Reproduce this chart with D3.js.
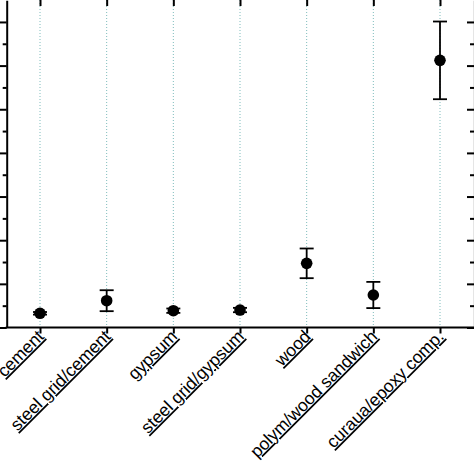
<!DOCTYPE html>
<html>
<head>
<meta charset="utf-8">
<script src="https://cdn.jsdelivr.net/npm/d3@7"></script>
<style>
  body { margin: 0; background: #fff; }
  svg { display: block; }
  .lbl { font-family: "Liberation Sans", Arial, sans-serif; font-size: 17.5px; text-decoration: underline; fill: #000; }
</style>
</head>
<body>
<svg id="chart" width="474" height="462"></svg>
<script>
// data (y in units of major ticks)
const categories = ['cement', 'steel grid/cement', 'gypsum', 'steel grid/gypsum', 'wood', 'polym/wood sandwich', 'curaua/epoxy comp.'];
const means = [0.325, 0.614, 0.385, 0.40, 1.47, 0.745, 6.12];
const errors = [0.03, 0.24, 0.05, 0.05, 0.34, 0.30, 0.89];
const majorTicks = [0, 1, 2, 3, 4, 5, 6, 7];
const minorTicks = [0.5, 1.5, 2.5, 3.5, 4.5, 5.5, 6.5];

const svg = d3.select('#chart');
const width = +svg.attr('width');

const left = 6.7, right = 474, bottom = 327.5;

const x = d3.scalePoint()
    .domain(categories)
    .range([40, 440]);

const y = d3.scaleLinear()
    .domain([0, 7.5])
    .range([bottom, bottom - 7.5 * 43.65]);

const data = categories.map((c, i) => ({ cat: c, mean: means[i], err: errors[i] }));

// dotted guide lines
svg.append('g').selectAll('line')
    .data(categories)
    .enter().append('line')
    .attr('x1', d => x(d)).attr('x2', d => x(d))
    .attr('y1', 0).attr('y2', bottom)
    .attr('stroke', '#7fbcbc')
    .attr('stroke-width', 1)
    .attr('stroke-dasharray', '1,2');

// ticks of the panel above (hanging from the top edge)
const topAx = svg.append('g')
    .attr('transform', 'translate(0,-1)')
    .call(d3.axisBottom(x).tickSize(7).tickSizeOuter(0).tickFormat(''));
topAx.select('.domain').remove();
topAx.selectAll('line').attr('stroke', '#000').attr('stroke-width', 2);

// left axis, outward ticks
const leftAx = svg.append('g')
    .attr('transform', 'translate(' + left + ',0)')
    .call(d3.axisLeft(y).tickValues(majorTicks).tickSize(7).tickSizeOuter(0).tickFormat(''));
leftAx.select('.domain').attr('stroke-width', 2);
leftAx.selectAll('line').attr('stroke-width', 2);
svg.append('g')
    .attr('transform', 'translate(' + left + ',0)')
    .call(d3.axisLeft(y).tickValues(minorTicks).tickSize(4).tickSizeOuter(0).tickFormat(''))
    .call(g => g.select('.domain').remove())
    .selectAll('line').attr('stroke-width', 2);

// right edge (next panel), outward ticks
const rightAx = svg.append('g')
    .attr('transform', 'translate(' + right + ',0)')
    .call(d3.axisLeft(y).tickValues(majorTicks).tickSize(7).tickSizeOuter(0).tickFormat(''));
rightAx.select('.domain').attr('stroke', '#ccc').attr('stroke-width', 2);
rightAx.selectAll('line').attr('stroke-width', 2);
svg.append('g')
    .attr('transform', 'translate(' + right + ',0)')
    .call(d3.axisLeft(y).tickValues(minorTicks).tickSize(4).tickSizeOuter(0).tickFormat(''))
    .call(g => g.select('.domain').remove())
    .selectAll('line').attr('stroke-width', 2);

// bottom axis
const xAx = svg.append('g')
    .attr('transform', 'translate(0,' + bottom + ')')
    .call(d3.axisBottom(x).tickSize(6).tickSizeOuter(0).tickFormat(''));
xAx.select('.domain').attr('d', 'M' + (left - 1) + ',0H' + width).attr('stroke-width', 2);
xAx.selectAll('line').attr('stroke-width', 2);

// rotated labels
svg.append('g').selectAll('text')
    .data(categories)
    .enter().append('text')
    .attr('class', 'lbl')
    .attr('text-anchor', 'end')
    .attr('transform', d => 'translate(' + (x(d) + 5) + ',' + (bottom + 10) + ') rotate(-45)')
    .text(d => d);

// error bars
const eb = svg.append('g').selectAll('g')
    .data(data)
    .enter().append('g');
eb.append('line')
    .attr('x1', d => x(d.cat)).attr('x2', d => x(d.cat))
    .attr('y1', d => y(d.mean - d.err)).attr('y2', d => y(d.mean + d.err))
    .attr('stroke', '#000').attr('stroke-width', 1.8);
[-1, 1].forEach(s => {
  eb.append('line')
      .attr('x1', d => x(d.cat) - 7).attr('x2', d => x(d.cat) + 7)
      .attr('y1', d => y(d.mean + s * d.err)).attr('y2', d => y(d.mean + s * d.err))
      .attr('stroke', '#000').attr('stroke-width', 1.8);
});
eb.append('circle')
    .attr('cx', d => x(d.cat))
    .attr('cy', d => y(d.mean))
    .attr('r', 5.8)
    .attr('fill', '#000');
</script>
</body>
</html>
